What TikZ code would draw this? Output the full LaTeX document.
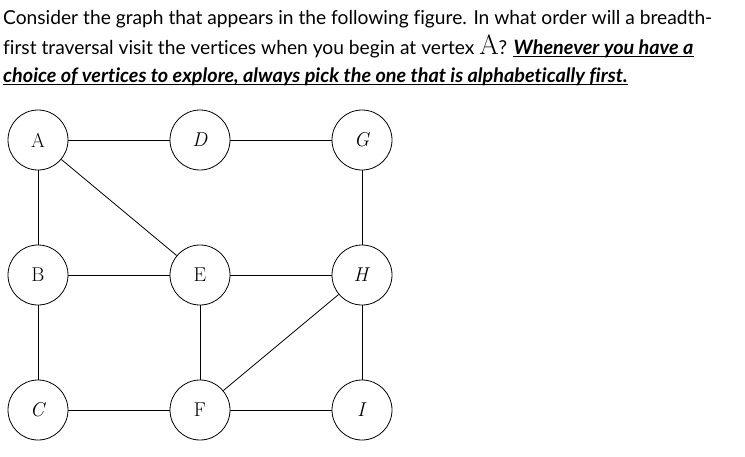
\documentclass[tikz,border=0pt]{standalone}
\usepackage{fontspec}
\setmainfont[Ligatures=NoCommon]{Lato}
\newfontfamily\lmserif{Latin Modern Roman}
\begin{document}
\begin{tikzpicture}[x=1pt,y=-1pt,
  vtx/.style={circle,draw,line width=0.8pt,minimum size=60pt,inner sep=0pt,font=\lmserif\fontsize{20}{20}\selectfont},
  txt/.style={anchor=base west,inner sep=0pt,font=\fontsize{19.2}{22}\selectfont},
  btxt/.style={anchor=base west,inner sep=0pt,font=\fontsize{19.8}{22}\selectfont\bfseries\itshape},
  edge/.style={line width=0.8pt}]
\path[use as bounding box] (0,0) rectangle (745,456);
\node[txt] (l1) at (3,24) {Consider the graph that appears in the following figure. In what order will a breadth-};
\node[txt] (l2) at (3,54) {first traversal visit the vertices when you begin at vertex {\lmserif\fontsize{28}{28}\selectfont A}?};
\node[btxt] (l2b) at ([xshift=6pt]l2.base east) {Whenever you have a};
\node[btxt] (l3) at (3,82) {choice of vertices to explore, always pick the one that is alphabetically first.};
\draw[line width=1pt] ([yshift=-2.5pt]l2b.base west) -- ([yshift=-2.5pt]l2b.base east);
\draw[line width=1pt] ([yshift=-2.5pt]l3.base west) -- ([yshift=-2.5pt]l3.base east);
\node[vtx] (A) at (38,140) {A};
\node[vtx] (D) at (200,140) {\textit{D}};
\node[vtx] (G) at (362,140) {\textit{G}};
\node[vtx] (B) at (38,275) {B};
\node[vtx] (E) at (200,275) {E};
\node[vtx] (H) at (362,275) {\textit{H}};
\node[vtx] (C) at (38,410) {\textit{C}};
\node[vtx] (F) at (200,410) {F};
\node[vtx] (I) at (362,410) {\textit{I}};
\foreach \a/\b in {A/D,D/G,A/B,A/E,B/E,E/H,G/H,B/C,E/F,C/F,F/I,H/I,F/H}
  \draw[edge] (\a) -- (\b);
\end{tikzpicture}
\end{document}
